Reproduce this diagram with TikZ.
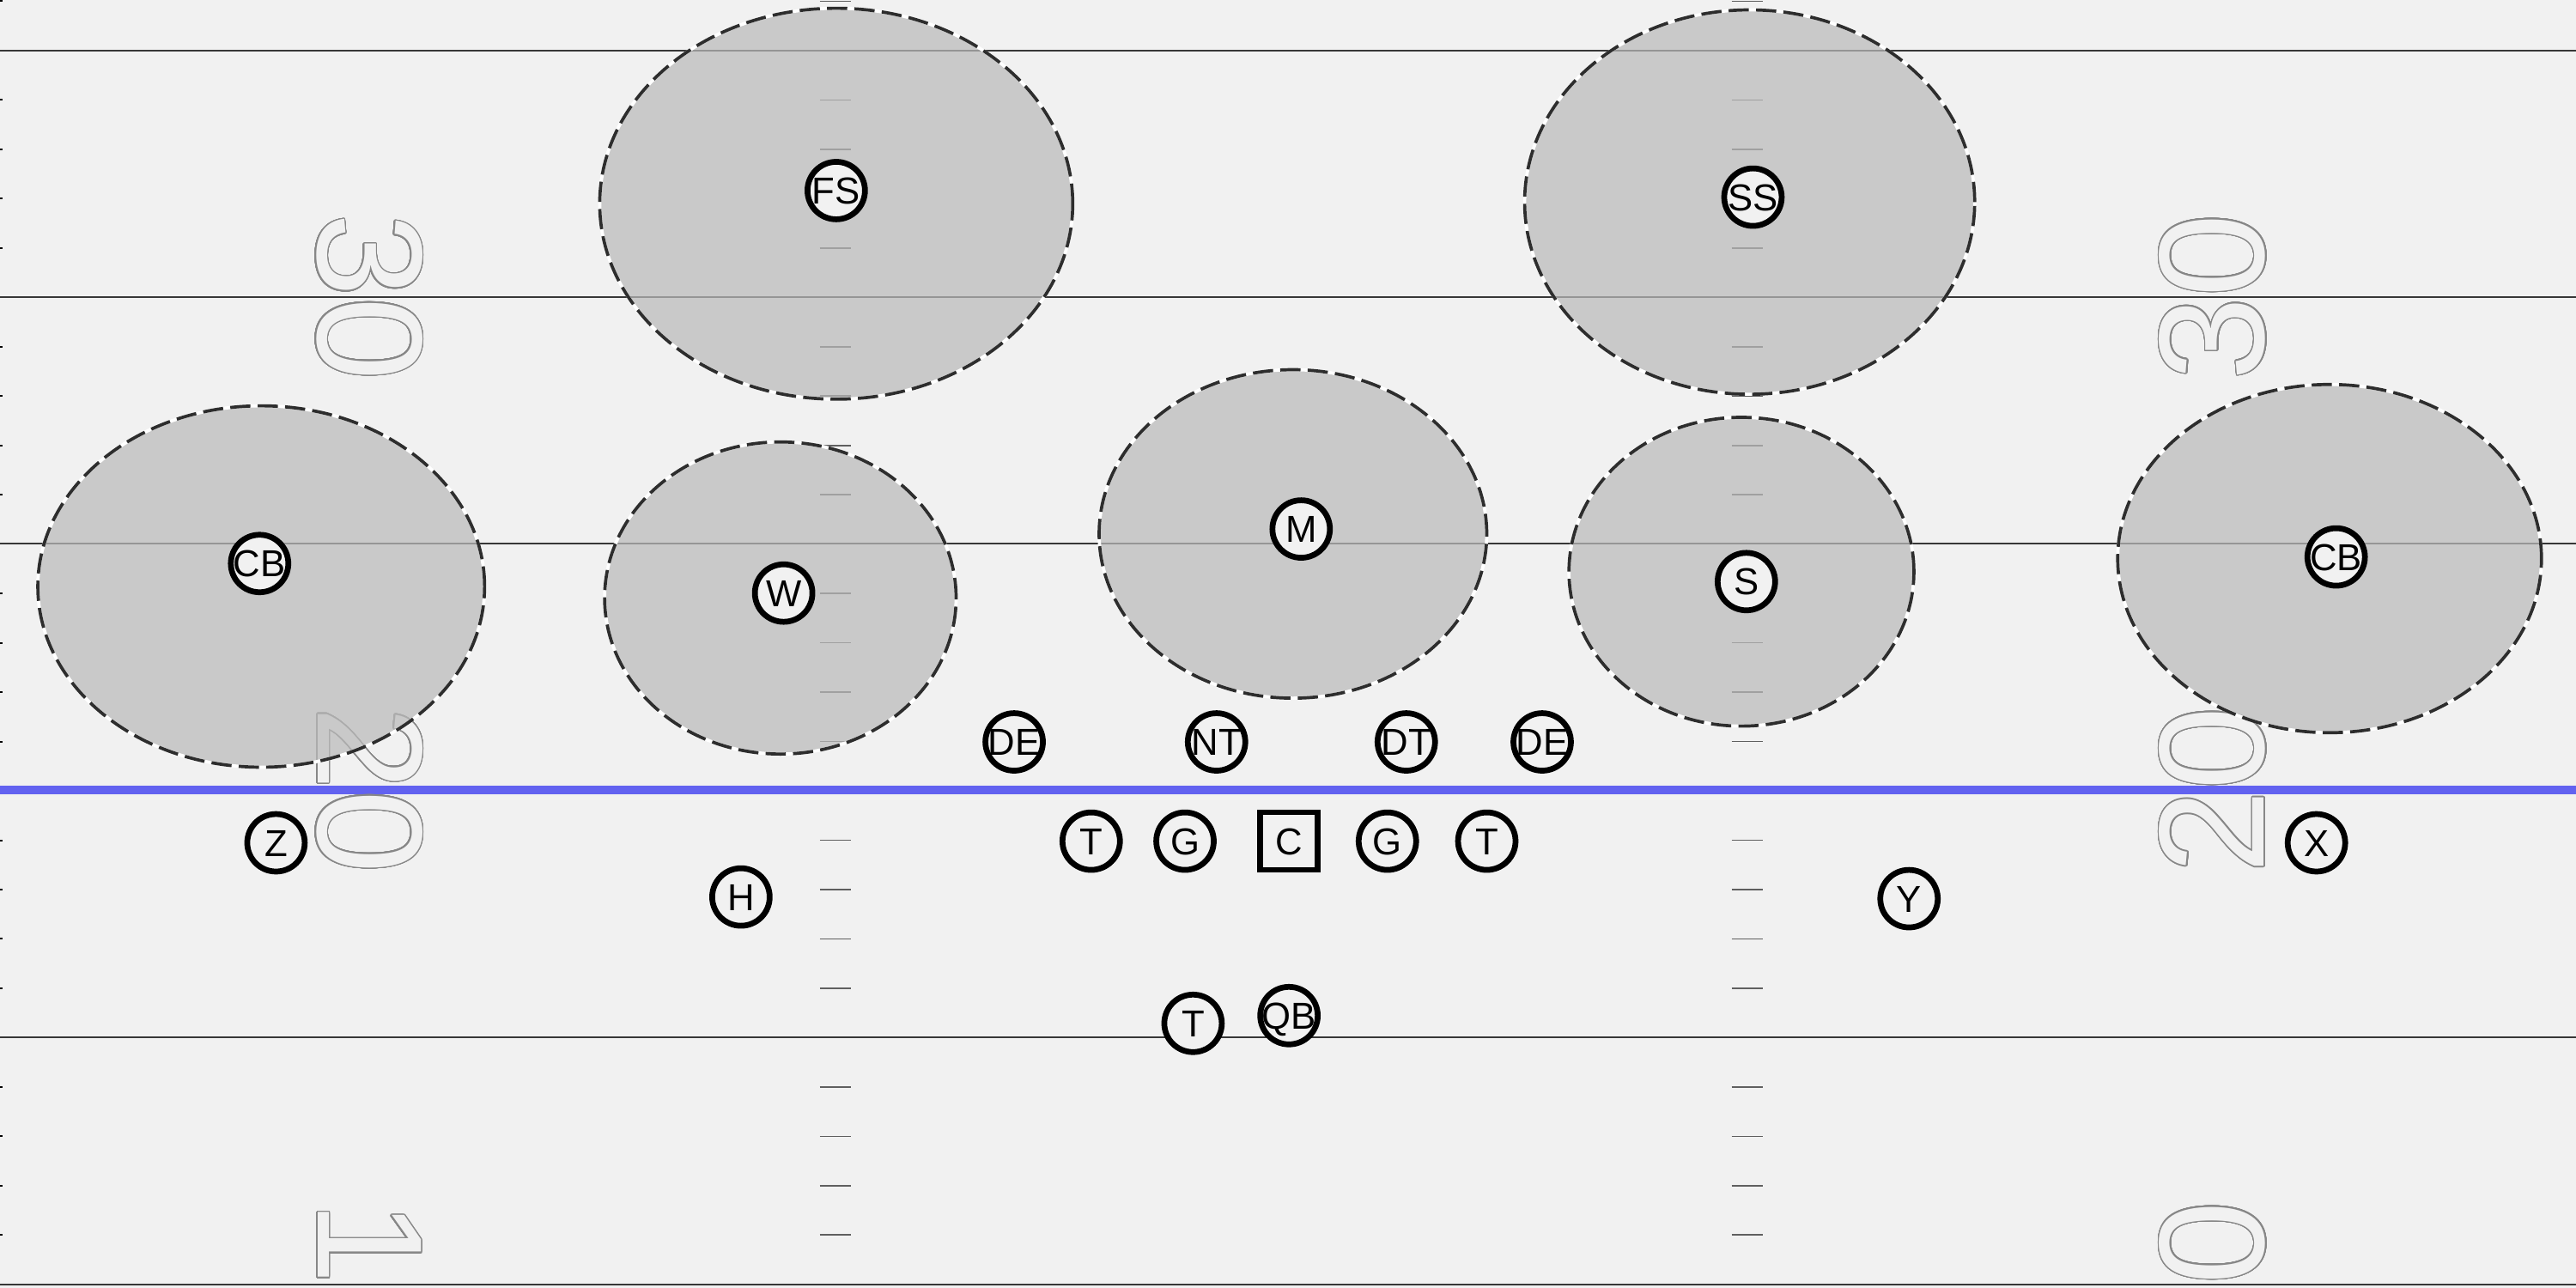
\documentclass[tikz,border=0pt]{standalone}
\usepackage{fontspec}
\setmainfont{Liberation Sans}
\usepackage{contour}
\contourlength{0.45pt}
\contournumber{32}
\usetikzlibrary{shapes.geometric}
\definecolor{fieldbg}{RGB}{241,241,241}
\definecolor{yardcol}{RGB}{55,55,55}
\definecolor{scrim}{RGB}{98,98,240}
\definecolor{zonefill}{RGB}{186,186,186}
\definecolor{zoneline}{RGB}{45,45,45}
\definecolor{numcol}{RGB}{135,135,135}
\definecolor{hashcol}{RGB}{95,95,95}
\newcommand{\plab}[1]{\makebox[0pt]{\smash{\raisebox{-0.358em}{#1}}}}
\newcommand{\ynum}[1]{\contour{numcol}{#1}}
\begin{document}
\begin{tikzpicture}[x=0.02cm,y=-0.02cm,
  yardline/.style={draw=yardcol,line width=0.6pt},
  scrimline/.style={draw=scrim,line width=3pt},
  hashmark/.style={draw=hashcol,line width=0.5pt},
  sidetick/.style={draw=black,line width=0.6pt},
  yardnum/.style={inner sep=0pt,text=fieldbg,font=\fontsize{52pt}{52pt}\selectfont},
  zonenode/.style={ellipse,inner sep=0pt,fill=zonefill,fill opacity=0.72,draw=white,line width=1.1pt,
    postaction={draw=zoneline,line width=1.1pt,dash pattern=on 7pt off 2.5pt}},
  player/.style={circle,draw=black,fill=fieldbg,line width=2pt,minimum size=0.70cm,inner sep=0pt,
    font=\fontsize{13pt}{13pt}\selectfont},
  centerbox/.style={player,rectangle,minimum size=0.70cm}
]
\useasboundingbox (0,0) rectangle (1568,784);
\fill[fieldbg] (0,0) rectangle (1568,784);
\clip (0,0) rectangle (1568,784);

% yard lines
\foreach \yy in {30.8,180.9,330.9,631.4,782}{
  \draw[yardline] (0,\yy) -- (1568,\yy);
}
\draw[scrimline] (0,481) -- (1568,481);

% hash marks and sideline ticks
\foreach \k in {-1,...,24}{
  \pgfmathsetmacro\yy{30.8+30.04*\k}
  \pgfmathtruncatemacro\mm{mod(\k+5,5)}
  \ifnum\mm=0\relax\else
    \draw[hashmark] (499,\yy) -- (518,\yy);
    \draw[hashmark] (1054,\yy) -- (1073,\yy);
    \draw[sidetick] (0,\yy) -- (1.5,\yy);
  \fi
}

% yard numbers
\node[yardnum,rotate=-90] (n30l) at (224.5,180.9) {\ynum{30}};
\node[yardnum,rotate=-90] (n20l) at (224.5,481) {\ynum{20}};
\node[yardnum,rotate=-90] (n1l) at (224.5,756.6) {\ynum{1}};
\node[yardnum,rotate=90] (n30r) at (1347,180.9) {\ynum{30}};
\node[yardnum,rotate=90] (n20r) at (1347,481) {\ynum{20}};
\node[yardnum,rotate=90] (n0r) at (1347,756.6) {\ynum{0}};

% coverage zones
\node[zonenode,minimum width=5.76cm,minimum height=4.76cm] (zfs) at (509,124) {};
\node[zonenode,minimum width=5.48cm,minimum height=4.68cm] (zss) at (1065,123) {};
\node[zonenode,minimum width=5.44cm,minimum height=4.40cm] (zcbl) at (159,357) {};
\node[zonenode,minimum width=4.28cm,minimum height=3.80cm] (zw) at (475,364) {};
\node[zonenode,minimum width=4.72cm,minimum height=4.00cm] (zm) at (787,325) {};
\node[zonenode,minimum width=4.20cm,minimum height=3.76cm] (zs) at (1060,348) {};
\node[zonenode,minimum width=5.16cm,minimum height=4.24cm] (zcbr) at (1418,340) {};

% defense
\node[player] (fs) at (509,116) {\plab{FS}};
\node[player] (ss) at (1067,120) {\plab{SS}};
\node[player] (cbl) at (158,343) {\plab{CB}};
\node[player] (w) at (477,361) {\plab{W}};
\node[player] (m) at (792,322) {\plab{M}};
\node[player] (s) at (1063,354) {\plab{S}};
\node[player] (cbr) at (1422,339) {\plab{CB}};
\node[player] (del) at (617.3,451.6) {\plab{DE}};
\node[player] (nt) at (740.5,451.6) {\plab{NT}};
\node[player] (dt) at (856,451.6) {\plab{DT}};
\node[player] (der) at (938.7,451.6) {\plab{DE}};

% offense
\node[player] (z) at (168,513) {\plab{Z}};
\node[player] (tl) at (664.2,512) {\plab{T}};
\node[player] (gl) at (721.3,512) {\plab{G}};
\node[centerbox] (c) at (784.6,512) {\plab{C}};
\node[player] (gr) at (844.5,512) {\plab{G}};
\node[player] (tr) at (905,512) {\plab{T}};
\node[player] (x) at (1410,513) {\plab{X}};
\node[player] (h) at (451,546) {\plab{H}};
\node[player] (y) at (1162,547) {\plab{Y}};
\node[player] (tb) at (726.2,622.9) {\plab{T}};
\node[player] (qb) at (784.6,618.2) {\plab{QB}};
\end{tikzpicture}
\end{document}
